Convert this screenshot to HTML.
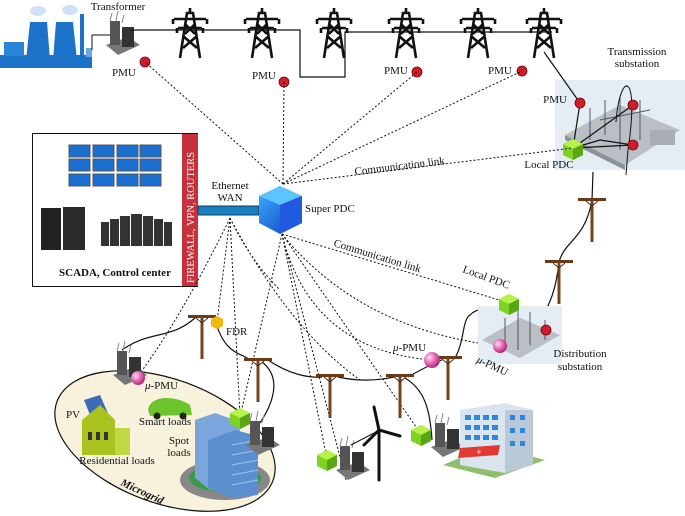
<!DOCTYPE html>
<html><head><meta charset="utf-8"><style>
html,body{margin:0;padding:0;background:#fff;width:685px;height:516px;overflow:hidden;}
svg{display:block;}
text{font-family:"Liberation Serif",serif;fill:#111;}
</style></head><body>
<svg width="685" height="516" viewBox="0 0 685 516" xmlns="http://www.w3.org/2000/svg">
<defs>
<linearGradient id="cube" x1="0" y1="0" x2="1" y2="1"><stop offset="0" stop-color="#3fb0ff"/><stop offset="1" stop-color="#0a3fc0"/></linearGradient>
<radialGradient id="pink" cx="0.35" cy="0.35" r="0.7"><stop offset="0" stop-color="#fbe0f0"/><stop offset="0.5" stop-color="#e46ab8"/><stop offset="1" stop-color="#b0206f"/></radialGradient>
<g id="tower" fill="none" stroke="#111" stroke-width="2.6">
 <path d="M-10,50 L-3,5 L3,5 L10,50 M-7,28 L7,40 M7,28 L-7,40 M-5,16 L5,26 M5,16 L-5,26"/>
 <path d="M-16,11 L16,11 M-12,20 L12,20 M-17,11 L-17,16 M17,11 L17,16 M-13,20 L-13,25 M13,20 L13,25 M0,0 L0,5" />
</g>
<g id="pole"><rect x="-14" y="-2" width="28" height="3" fill="#6b3a14"/><rect x="-1.5" y="0" width="3" height="42" fill="#7a4318"/><path d="M-6,1 L0,6 L6,1" stroke="#333" fill="none"/></g>
<g id="gcube"><path d="M0,-9 L10,-4 L10,7 L0,12 L-10,7 L-10,-4Z" fill="#7ed321"/><path d="M0,-9 L10,-4 L0,1 L-10,-4Z" fill="#b6f24a"/><path d="M0,1 L10,-4 L10,7 L0,12Z" fill="#5aa516"/></g>
<g id="xfmr"><path d="M-12,10 L10,2 L22,10 L0,20Z" fill="#777"/><rect x="-8" y="-14" width="10" height="24" fill="#555"/><rect x="4" y="-8" width="12" height="20" fill="#333"/><path d="M-8,-14 L-6,-22 M-2,-14 L0,-24 M4,-12 L6,-20" stroke="#888"/></g>
</defs>

<!-- power plant -->
<rect x="0" y="55" width="92" height="13" fill="#1c72c9"/>
<path d="M26,60 L30,22 L47,22 L50,60Z" fill="#1c72c9"/>
<path d="M53,60 L56,22 L73,22 L77,60Z" fill="#1c72c9"/>
<rect x="80" y="14" width="4" height="45" fill="#1c72c9"/>
<rect x="4" y="42" width="20" height="14" fill="#2a84d8"/>
<rect x="86" y="48" width="6" height="9" fill="#6aa6e4"/>
<ellipse cx="38" cy="11" rx="8" ry="5" fill="#cfe2f5"/><ellipse cx="70" cy="10" rx="8" ry="5" fill="#cfe2f5"/>
<path d="M92,50 L92,35 L110,35" stroke="#111" fill="none"/>
<text x="118" y="10" font-size="11" text-anchor="middle">Transformer</text>
<use href="#xfmr" x="118" y="35"/>

<!-- transmission line -->
<path d="M130,30 L300,30 L300,77 L345,77 L345,32 L552,32" stroke="#111" stroke-width="1.2" fill="none"/>
<use href="#tower" x="190" y="8"/><use href="#tower" x="262" y="8"/><use href="#tower" x="334" y="8"/>
<use href="#tower" x="406" y="8"/><use href="#tower" x="478" y="8"/><use href="#tower" x="544" y="8"/>

<!-- PMUs -->
<g fill="#d11d2a" stroke="#6a0a10" stroke-width="0.8">
<circle cx="145" cy="62" r="5"/><circle cx="284" cy="82" r="5"/><circle cx="417" cy="72" r="5"/><circle cx="522" cy="71" r="5"/>
</g>
<g font-size="11"><text x="112" y="76">PMU</text><text x="252" y="79">PMU</text><text x="384" y="74">PMU</text><text x="488" y="74">PMU</text></g>

<!-- transmission substation -->
<rect x="555" y="80" width="130" height="90" fill="#e4edf4"/>
<path d="M565,135 L620,105 L680,130 L625,165Z" fill="#b9bfc4"/>
<path d="M565,135 L625,165 L625,170 L565,140Z" fill="#8d9298"/>
<g stroke="#556" stroke-width="1"><path d="M590,108 L590,140 M605,100 L605,135 M620,98 L620,150 M640,100 L640,140 M600,120 L650,110"/></g>
<rect x="650" y="130" width="25" height="15" fill="#a8aeb3"/>
<path d="M616,122 C620,70 640,70 628,150 L626,175" stroke="#111" fill="none"/>
<path d="M544,52 L580,103 M573,148 L580,103 M573,148 L633,105 M573,148 L633,145 M573,148 L600,140 L633,145" stroke="#111" stroke-width="1.2" fill="none"/>
<g fill="#d11d2a" stroke="#6a0a10" stroke-width="0.8"><circle cx="580" cy="103" r="5"/><circle cx="633" cy="105" r="5"/><circle cx="633" cy="145" r="5"/></g>
<use href="#gcube" x="573" y="148"/>
<text x="555" y="103" font-size="11" text-anchor="middle">PMU</text>
<text x="637" y="55" font-size="11" text-anchor="middle">Transmission</text>
<text x="637" y="67" font-size="11" text-anchor="middle">substation</text>
<text x="549" y="168" font-size="11" text-anchor="middle">Local PDC</text>

<!-- SCADA -->
<rect x="32.5" y="133.5" width="165" height="153" fill="#fff" stroke="#111"/>
<rect x="182" y="134" width="16" height="152" fill="#c6313c"/>
<text transform="translate(194,283) rotate(-90)" font-size="10.5" style="fill:#fff">FIREWALL, VPN, ROUTERS</text>
<g fill="#1b6fd0" stroke="#555" stroke-width="1">
<rect x="69" y="145" width="21" height="12"/><rect x="93" y="145" width="21" height="12"/><rect x="117" y="145" width="21" height="12"/><rect x="140" y="145" width="21" height="12"/>
<rect x="69" y="159" width="21" height="12"/><rect x="93" y="159" width="21" height="12"/><rect x="117" y="159" width="21" height="12"/><rect x="140" y="159" width="21" height="12"/>
<rect x="69" y="174" width="21" height="12"/><rect x="93" y="174" width="21" height="12"/><rect x="117" y="174" width="21" height="12"/><rect x="140" y="174" width="21" height="12"/>
</g>
<rect x="41" y="208" width="20" height="42" fill="#222"/><rect x="63" y="207" width="22" height="43" fill="#2a2a2a"/>
<g fill="#333"><rect x="101" y="222" width="8" height="24"/><rect x="110" y="219" width="9" height="27"/><rect x="120" y="216" width="10" height="30"/><rect x="131" y="214" width="11" height="32"/><rect x="143" y="216" width="10" height="30"/><rect x="154" y="219" width="9" height="27"/><rect x="164" y="222" width="8" height="24"/></g>
<text x="115" y="276" font-size="11" font-weight="bold" text-anchor="middle">SCADA, Control center</text>

<!-- Ethernet WAN & Super PDC -->
<rect x="198" y="206" width="61" height="9" fill="#1a7fbf" stroke="#0b3d63"/>
<text x="230" y="189" font-size="11" text-anchor="middle">Ethernet</text>
<text x="230" y="201" font-size="11" text-anchor="middle">WAN</text>
<path d="M259,196 L280,186 L302,196 L302,223 L280,234 L259,223Z" fill="url(#cube)"/>
<path d="M259,196 L280,186 L302,196 L280,205Z" fill="#5cc4ff"/>
<path d="M280,205 L302,196 L302,223 L280,234Z" fill="#1f5ae0"/>
<text x="305" y="212" font-size="11">Super PDC</text>

<!-- communication dotted lines -->
<g stroke="#111" stroke-width="1" stroke-dasharray="2,2" fill="none">
<path d="M283,184 L145,62 M283,184 L284,82 M283,184 L417,72 M283,184 L522,71 M283,184 L573,148"/>
<path d="M282,234 L509,303 M282,234 Q360,330 500,346 M282,234 Q310,350 432,360 M282,234 L327,459 M282,234 L421,434 M282,234 L240,417 M282,234 L346,480"/>
<path d="M509,303 L546,330"/>
<path d="M230,218 Q180,320 138,376 M230,218 L217,322 M230,218 L240,417 M230,218 Q290,330 360,380 M230,218 Q250,260 280,290"/>
</g>
<text transform="translate(355,175) rotate(-7)" font-size="11">Communication link</text>
<text transform="translate(333,246) rotate(17)" font-size="11">Communication link</text>
<text transform="translate(462,272) rotate(20)" font-size="11">Local PDC</text>

<!-- distribution feeder -->
<g stroke="#111" stroke-width="1.2" fill="none">
<path d="M593,172 L592,200 C585,240 565,240 559,262 C555,300 545,310 536,330"/>
<path d="M195,318 C170,340 150,330 122,350"/>
<path d="M215,320 C225,355 240,352 250,360"/>
<path d="M268,360 C290,375 310,378 322,377 M338,377 C360,382 380,380 394,377 M408,377 C420,370 440,360 442,360 M455,358 C465,340 462,320 470,315 C485,300 500,320 500,346"/>
<path d="M262,362 C285,380 270,410 255,430"/>
<path d="M405,378 C425,390 430,410 432,440"/>
<path d="M125,380 L85,415 M107,455 L140,440 L160,420"/>
</g>
<use href="#pole" x="592" y="200"/><use href="#pole" x="559" y="262"/>
<use href="#pole" x="202" y="317"/><use href="#pole" x="258" y="360"/>
<use href="#pole" x="330" y="376"/><use href="#pole" x="400" y="376"/><use href="#pole" x="448" y="358"/>
<path d="M217,316 L223,319 L223,326 L217,329 L211,326 L211,319Z" fill="#f2b70f"/>
<text x="226" y="335" font-size="11">FDR</text>
<circle cx="432" cy="360" r="8" fill="url(#pink)"/>
<text x="393" y="351" font-size="11"><tspan font-style="italic">μ</tspan>-PMU</text>

<!-- distribution substation -->
<rect x="478" y="306" width="84" height="58" fill="#e4edf4"/>
<path d="M482,340 L520,318 L560,335 L520,358Z" fill="#b9bfc4"/>
<g stroke="#556"><path d="M505,318 L505,345 M518,310 L518,350 M530,312 L530,345 M545,320 L545,340"/></g>
<circle cx="546" cy="330" r="5" fill="#d11d2a" stroke="#6a0a10" stroke-width="0.8"/>
<circle cx="500" cy="346" r="7" fill="url(#pink)"/>
<use href="#gcube" x="509" y="303"/>
<text transform="translate(476,362) rotate(25)" font-size="11"><tspan font-style="italic">μ</tspan>-PMU</text>
<text x="580" y="357" font-size="11" text-anchor="middle">Distribution</text>
<text x="580" y="370" font-size="11" text-anchor="middle">substation</text>

<!-- microgrid -->
<ellipse cx="165" cy="441" rx="115" ry="62" transform="rotate(20 165 441)" fill="#f8f2dc" stroke="#111" stroke-width="1.2"/>
<use href="#xfmr" x="125" y="365"/>
<circle cx="138" cy="378" r="7" fill="url(#pink)"/>
<text x="145" y="389" font-size="11"><tspan font-style="italic">μ</tspan>-PMU</text>
<path d="M84,400 L100,395 L110,418 L92,420Z" fill="#3d6bb7"/>
<path d="M82,420 L100,405 L115,420 L115,455 L82,455Z" fill="#a9c321"/>
<path d="M115,428 L130,428 L130,455 L115,455Z" fill="#c2d744"/>
<g fill="#333"><rect x="88" y="432" width="4" height="8"/><rect x="96" y="432" width="4" height="8"/><rect x="104" y="432" width="4" height="8"/></g>
<path d="M148,410 C150,395 175,395 190,405 L192,415 L150,416Z" fill="#6cc52c"/>
<circle cx="157" cy="416" r="3.5" fill="#222"/><circle cx="183" cy="416" r="3.5" fill="#222"/>
<text x="66" y="418" font-size="11">PV</text>
<text x="165" y="425" font-size="11" text-anchor="middle">Smart loads</text>
<text x="117" y="464" font-size="11" text-anchor="middle">Residential loads</text>
<text x="179" y="444" font-size="11" text-anchor="middle">Spot</text>
<text x="179" y="456" font-size="11" text-anchor="middle">loads</text>
<text transform="translate(120,485) rotate(25)" font-size="11" font-weight="bold" font-style="italic">Microgrid</text>
<ellipse cx="225" cy="480" rx="45" ry="20" fill="#888"/><ellipse cx="225" cy="478" rx="36" ry="14" fill="#3a9a4a"/>
<path d="M195,420 L215,413 L240,422 L240,490 L210,490 L195,478Z" fill="#7aa6dc"/>
<path d="M208,440 L235,430 L258,436 L258,495 L232,498 L208,488Z" fill="#5b8fd0"/>
<g stroke="#9fc3ee" stroke-width="1"><path d="M232,445 L258,440 M232,455 L258,450 M232,465 L258,460 M232,475 L258,470 M232,485 L258,480"/></g>
<use href="#xfmr" x="258" y="435"/>
<use href="#gcube" x="240" y="417"/>

<!-- bottom middle -->
<use href="#xfmr" x="348" y="460"/>
<use href="#gcube" x="327" y="459"/>
<g stroke="#111" stroke-linecap="round"><path d="M379,430 L379,480" stroke-width="3"/><path d="M379,430 L374,407 M379,430 L400,436 M379,430 L364,445" stroke-width="3"/><path d="M351,445 L376,432" stroke-width="1"/></g>
<use href="#xfmr" x="443" y="437"/>
<use href="#gcube" x="421" y="434"/>
<path d="M443,465 L490,445 L545,460 L495,478Z" fill="#8fbf6a"/>
<path d="M460,410 L505,403 L533,410 L533,465 L505,473 L460,465Z" fill="#d9e4ee"/>
<path d="M505,410 L533,410 L533,465 L505,473Z" fill="#b9c9d8"/>
<g fill="#2f86dc"><rect x="465" y="415" width="6" height="5"/><rect x="474" y="415" width="6" height="5"/><rect x="483" y="415" width="6" height="5"/><rect x="492" y="415" width="6" height="5"/>
<rect x="465" y="425" width="6" height="5"/><rect x="474" y="425" width="6" height="5"/><rect x="483" y="425" width="6" height="5"/><rect x="492" y="425" width="6" height="5"/>
<rect x="465" y="435" width="6" height="5"/><rect x="474" y="435" width="6" height="5"/><rect x="483" y="435" width="6" height="5"/><rect x="492" y="435" width="6" height="5"/>
<rect x="510" y="415" width="5" height="5"/><rect x="520" y="415" width="5" height="5"/><rect x="510" y="428" width="5" height="5"/><rect x="520" y="428" width="5" height="5"/><rect x="510" y="441" width="5" height="5"/><rect x="520" y="441" width="5" height="5"/></g>
<path d="M460,448 L500,445 L498,455 L458,458Z" fill="#e03a34"/>
<text x="479" y="455" font-size="9" text-anchor="middle" style="fill:#fff" font-weight="bold">+</text>
</svg>
</body></html>
